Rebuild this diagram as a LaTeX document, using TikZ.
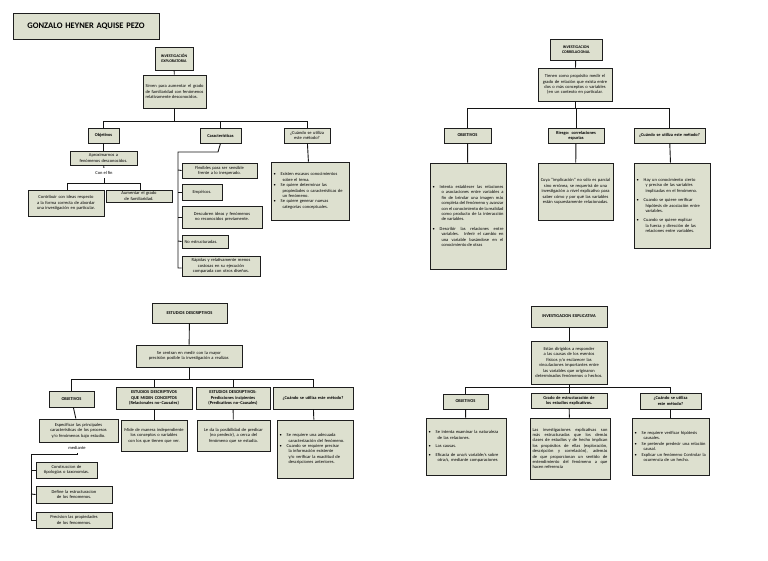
\documentclass[tikz,border=0pt]{standalone}
\usepackage{fontspec}
\setmainfont{Carlito}
\lefthyphenmin=64
\begin{document}
\begin{tikzpicture}[x=1pt,y=-1pt,
  every node/.style={font=\fontsize{4.5}{5.4}\selectfont},
  conn/.style={line width=0.9pt,draw={rgb,255:red,20;green,20;blue,20}}]
\definecolor{bfill}{RGB}{221,224,207}
\useasboundingbox (0,0) rectangle (768,560);
\newcommand\bx[7]{%
  \pgfmathsetmacro\bw{#4-#2}\pgfmathsetmacro\bh{#5-#3}\pgfmathsetmacro\tw{#4-#2-5}%
  \node[draw={rgb,255:red,30;green,30;blue,30},line width=0.9pt,fill=bfill,inner sep=1.2pt,
    minimum width=\bw pt,minimum height=\bh pt,text width=\tw pt,#6]
    (#1) at ({(#2+#4)/2},{(#3+#5)/2}) {\lefthyphenmin=64 #7};}
\newcommand\itm[1]{{\hangindent=9pt\hangafter=1\noindent\textbullet\hspace{5pt}#1\par}}
\tikzset{hb/.style={font=\bfseries\fontsize{4.4}{5.3}\selectfont}}
% title
\bx{title}{13}{13}{159}{39}{align=center,font=\bfseries\fontsize{8.5}{9}\selectfont}{GONZALO HEYNER AQUISE PEZO}
% ===== panel 1
\bx{ie}{155}{47}{193}{70}{align=center,font=\bfseries\fontsize{4}{5}\selectfont}{INVESTIGACIÓN EXPLORATORIA}
\bx{ies}{143}{75}{206}{108}{align=justify}{Sirven para aumentar el grado de familiaridad con fenómenos relativamente desconocidos.}
\bx{iobj}{88}{128}{119}{143}{align=center,hb}{Objetivos}
\bx{icar}{200}{128}{241}{143}{align=center,hb}{Características}
\bx{icu}{284}{128}{330}{143}{align=center}{¿Cuándo se utiliza este método?}
\bx{iap}{70}{151}{137}{165}{align=center}{Aproximarnos a fenómenos desconocidos.}
\node (fin) at (104,173) {Con el fin};
\bx{ico}{28}{190}{104}{216}{align=center}{Contribuir con ideas respecto a la forma correcta de abordar una investigación en particular.}
\bx{iau}{106}{190}{172}{202}{align=center}{Aumentar el grado de familiaridad.}
\bx{c1}{182}{163}{257}{178}{align=center}{Flexibles para ser sensible frente a lo inesperado.}
\bx{c2}{182}{184}{222}{200}{align=center}{Empíricos.}
\bx{c3}{182}{206}{262}{228}{align=center}{Descubren ideas y fenómenos no reconocidos previamente.}
\bx{c4}{182}{235}{228}{248}{align=left}{No estructuradas.}
\bx{c5}{182}{256}{260}{276}{align=center}{Rápidas y relativamente menos costosas en su ejecución comparada con otros diseños.}
\bx{icc}{271}{162}{349}{220}{align=left}{\itm{Existen escasos conocimientos sobre el tema.}\itm{Se quiere determinar las propiedades o características de un fenómeno.}\itm{Se quiere generar nuevas categorías conceptuales.}}
\draw[conn] (ie) -- (ies);
\draw[conn] (ies.south) -- ++(0,13) coordinate (b1);
\draw[conn] (b1) -| (iobj.north); \draw[conn] (b1) -| (icar.north); \draw[conn] (b1) -| (icu.north);
\draw[conn] (iobj) -- (iap); \draw[conn] (iap) -- (fin);
\draw[conn] (fin.south) -- ++(0,5) coordinate (b2);
\draw[conn] (b2) -| (67,190);
\draw[conn] (b2) -| (140,190);
\draw[conn] (icar.south) -- (218,152) -- (178,152) -- (178,268) -- (c5.west |- 0,268);
\draw[conn] (178,170) -- (c1.west); \draw[conn] (178,192) -- (c2.west);
\draw[conn] (178,217) -- (c3.west); \draw[conn] (178,241) -- (c4.west);
\draw[conn] (icu) -- (icc);
% ===== panel 2
\bx{rc}{550}{39}{602}{60}{align=center,font=\bfseries\fontsize{4}{5}\selectfont}{INVESTIGACION CORRELACIONAL}
\bx{rt}{538}{68}{612}{101}{align=center}{Tienen como propósito medir el grado de relación que exista entre dos o más conceptos o variables (en un contexto en particular.}
\bx{robj}{444}{128}{491}{143}{align=center,hb}{OBJETIVOS}
\bx{rri}{548}{128}{604}{143}{align=center,hb}{Riesgo: correlaciones espurias}
\bx{rcu}{634}{128}{705}{143}{align=center,hb}{¿Cuándo se utiliza este método?}
\bx{ro}{430}{163}{506}{269}{align=justify}{\itm{Intenta establecer las relaciones o asociaciones entre variables a fin de brindar una imagen más completa del fenómeno y avanzar con el conocimiento de la realidad como producto de la interacción de variables.}\vspace{4pt}\itm{Describir las relaciones entre variables. Inferir el cambio en una variable basándose en el conocimiento de otras}}
\bx{rr}{538}{163}{613}{220}{align=center}{Cuya “implicación” no sólo es parcial sino errónea, se requerirá de una investigación a nivel explicativo para saber cómo y por qué las variables están supuestamente relacionadas.}
\bx{rw}{634}{163}{710}{248}{align=left}{\itm{Hay un conocimiento cierto y preciso de las variables implicadas en el fenómeno.}\vspace{4pt}\itm{Cuando se quiere verificar hipótesis de asociación entre variables.}\vspace{4pt}\itm{Cuando se quiere explicar la fuerza y dirección de las relaciones entre variables.}}
\draw[conn] (rc) -- (rt);
\draw[conn] (rt.south) -- ++(0,7) coordinate (b3);
\draw[conn] (b3) -| (robj.north); \draw[conn] (b3) -| (rri.north); \draw[conn] (b3) -| (rcu.north);
\draw[conn] (robj) -- (ro); \draw[conn] (rri) -- (rr); \draw[conn] (rcu) -- (rw);
% ===== panel 3
\bx{ed}{152}{303}{227}{323}{align=center,hb}{ESTUDIOS DESCRIPTIVOS}
\bx{es}{136}{345}{242}{367}{align=center}{Se centran en medir con la mayor precisión posible la investigación a realizar.}
\bx{dobj}{49}{391}{94}{407}{align=center,hb}{OBJETIVOS}
\bx{dmc}{116}{387}{192}{409}{align=center,hb}{ESTUDIOS DESCRIPTIVOS QUE MIDEN CONCEPTOS (Relacionales no--Causales)}
\bx{dpr}{196}{387}{270}{409}{align=center,hb}{ESTUDIOS DESCRIPTIVOS: Predicciones incipientes (Predicativos no--Causales)}
\bx{dcu}{273}{387}{353}{409}{align=center,hb}{¿Cuándo se utiliza este método?}
\bx{desp}{39}{419}{118}{442}{align=center}{Especificar las principales características de los procesos y/o fenómenos bajo estudio.}
\node (med) at (77,448) {mediante};
\bx{d1}{36}{462}{97}{478}{align=center}{Construccion de tipologías o taxonomías.}
\bx{d2}{36}{486}{112}{503}{align=center}{Define la estructuracion de los fenomenos.}
\bx{d3}{36}{512}{112}{528}{align=center}{Precision las propiedades de los fenomenos.}
\bx{dm}{121}{420}{187}{451}{align=center}{Mide de manera independiente los conceptos o variables con los que tienen que ver.}
\bx{dl}{197}{420}{270}{451}{align=center}{Le da la posibilidad de predicar (no predecir), a cerca del fenómeno que se estudia.}
\bx{dw}{277}{420}{353}{478}{align=left}{\itm{Se requiere una adecuada caracterización del fenómeno.}\itm{Cuando se requiere precisar la información existente y/o verificar la exactitud de descripciones anteriores.}}
\draw[conn] (ed) -- (es);
\draw[conn] (es.south) -- ++(0,12) coordinate (b4);
\draw[conn] (b4) -| (dobj.north); \draw[conn] (b4) -| (dmc.north); \draw[conn] (b4) -| (dpr.north); \draw[conn] (b4) -| (dcu.north);
\draw[conn] (dobj) -- (desp); \draw[conn] (desp) -- (med);
\draw[conn] (med.south) -- (77,454) -- (31,454) -- (31,520) -- (d3.west |- 0,520);
\draw[conn] (31,470) -- (d1.west); \draw[conn] (31,494) -- (d2.west);
\draw[conn] (dmc) -- (dm); \draw[conn] (dpr) -- (dl); \draw[conn] (dcu) -- (dw);
% ===== panel 4
\bx{xe}{531}{306}{607}{327}{align=center,hb}{INVESTIGACION EXPLICATIVA}
\bx{xs}{531}{341}{607}{384}{align=center}{Están dirigidos a responder a las causas de los eventos físicos y/o esclarecer las vinculaciones importantes entre las variables que originaron determinados fenómenos o hechos.}
\bx{xobj}{443}{394}{488}{409}{align=center,hb}{OBJETIVOS}
\bx{xgr}{531}{393}{607}{408}{align=center,hb}{Grado de estructuración de los estudios explicativos.}
\bx{xcu}{640}{393}{701}{409}{align=center,hb}{¿Cuándo se utiliza este método?}
\bx{xo}{426}{418}{506}{475}{align=left}{\itm{Se intenta examinar la naturaleza de las relaciones.}\vspace{3pt}\itm{Las causas.}\vspace{3pt}\itm{Eficacia de una/s variable/s sobre otra/s, mediante comparaciones}}
\bx{xg}{530}{418}{610}{479}{align=justify}{Las investigaciones explicativas son más estructuradas que los demás clases de estudios y de hecho implican los propósitos de ellas (exploración, descripción y correlación), además de que proporcionan un sentido de entendimiento del fenómeno a que hacen referencia}
\bx{xw}{632}{418}{709}{475}{align=left}{\itm{Se requiere verificar hipótesis causales.}\itm{Se pretende predecir una relación causal.}\itm{Explicar un fenómeno Controlar la ocurrencia de un hecho.}}
\draw[conn] (xe) -- (xs);
\draw[conn] (xs.south) -- ++(0,3) coordinate (b5);
\draw[conn] (b5) -| (xobj.north); \draw[conn] (b5) -- (xgr.north); \draw[conn] (b5) -| (xcu.north);
\draw[conn] (xobj) -- (xo); \draw[conn] (xgr) -- (xg); \draw[conn] (xcu) -- (xw);
\end{tikzpicture}
\end{document}
